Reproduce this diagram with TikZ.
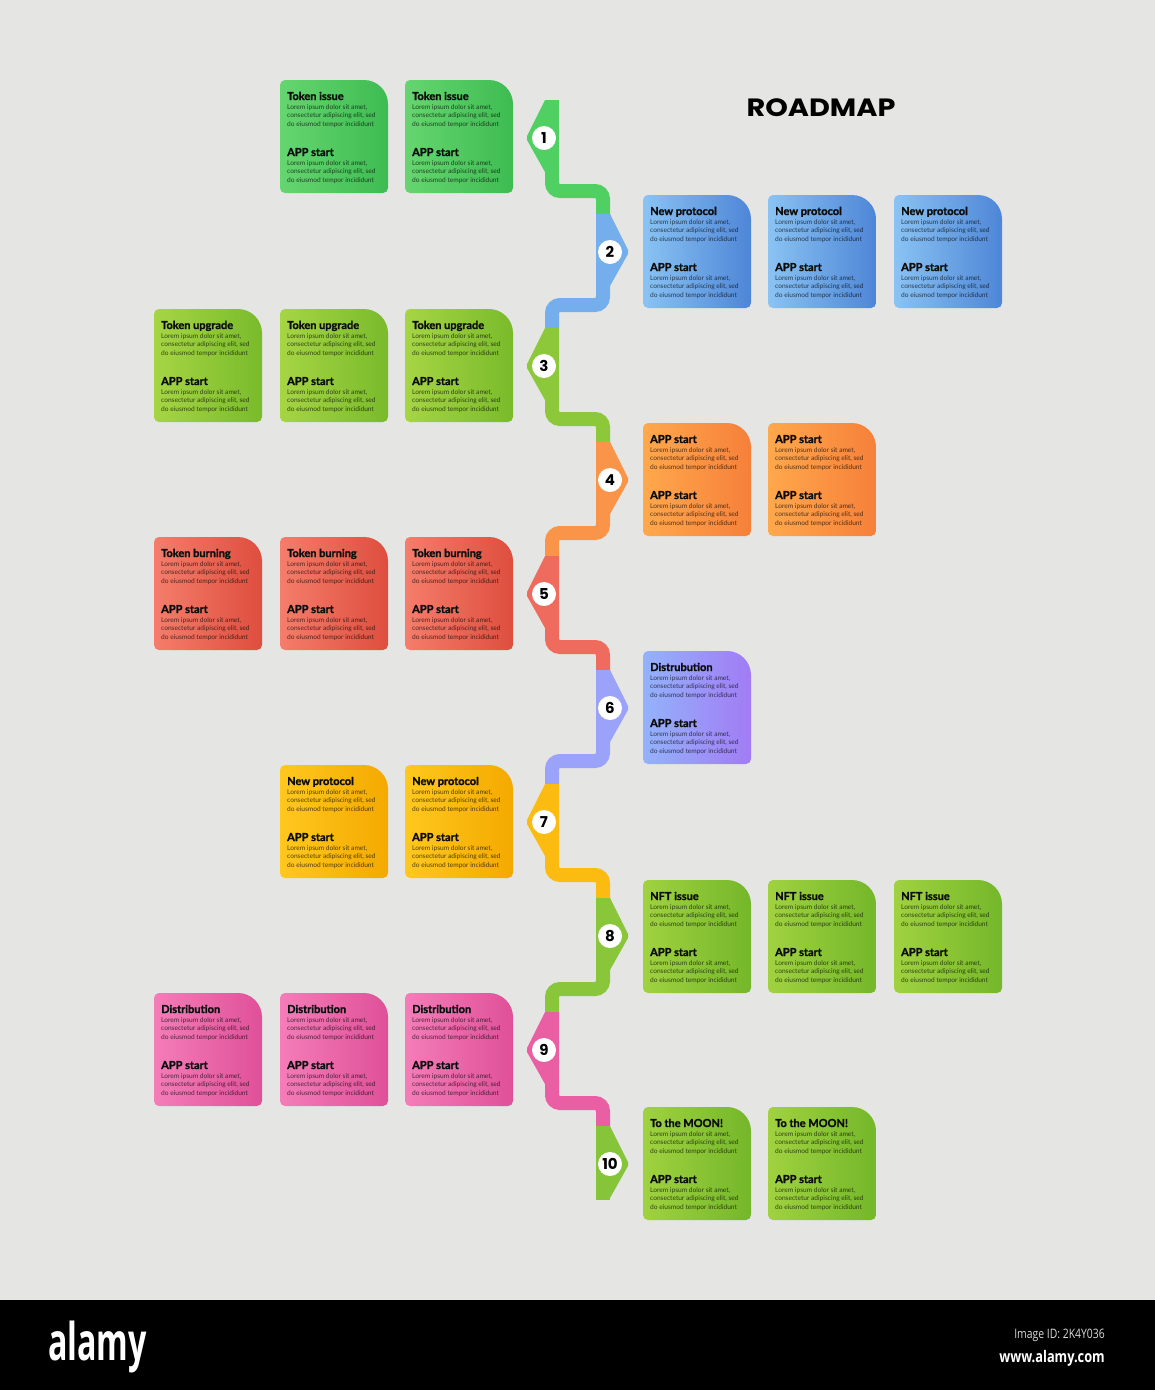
\documentclass[tikz,border=0pt]{standalone}
\usepackage{fontspec}
\setmainfont{Lato}
\newfontfamily\headfont{Lato}[BoldFeatures={FakeBold=1.6}]
\newfontfamily\badgefont{Poppins}
\newfontfamily\barfont{Open Sans}

\definecolor{bggrey}{HTML}{E5E6E4}
% card colours, left and right end of the shading
\definecolor{c1L}{HTML}{66D570}\definecolor{c1R}{HTML}{3DBC51}
\definecolor{c2L}{HTML}{8AC3F3}\definecolor{c2R}{HTML}{4E86D7}
\definecolor{c3L}{HTML}{A6D544}\definecolor{c3R}{HTML}{79BB2B}
\definecolor{c4L}{HTML}{FFA84C}\definecolor{c4R}{HTML}{F6803A}
\definecolor{c5L}{HTML}{F57D6B}\definecolor{c5R}{HTML}{DE4E3E}
\definecolor{c6L}{HTML}{93B3FB}\definecolor{c6R}{HTML}{A27BF4}
\definecolor{c7L}{HTML}{FFC81E}\definecolor{c7R}{HTML}{F4A900}
\definecolor{c8L}{HTML}{A0D240}\definecolor{c8R}{HTML}{74B72A}
\definecolor{c9L}{HTML}{F47DB8}\definecolor{c9R}{HTML}{DF5099}
% timeline colours
\definecolor{t1}{HTML}{50CF62}
\definecolor{t2}{HTML}{74AEEC}
\definecolor{t3}{HTML}{8CC83A}
\definecolor{t4}{HTML}{F99448}
\definecolor{t5}{HTML}{EF6B5E}
\definecolor{t6}{HTML}{9AA2FA}
\definecolor{t7}{HTML}{FBBB10}
\definecolor{t8}{HTML}{8AC63A}
\definecolor{t9}{HTML}{EA5FA3}
\definecolor{t10}{HTML}{86C43A}

\newcommand{\loremtext}{Lorem ipsum dolor sit amet,\\consectetur adipiscing elit, sed\\do eiusmod tempor incididunt}

% name, x, y (top left corner), colour, heading
\newcommand{\roadcard}[5]{%
  \path[left color=#4L, right color=#4R]
    (#2+5,#3) -- (#2+84,#3) arc(-90:0:24) -- (#2+108,#3+108) arc(0:90:5)
    -- (#2+5,#3+113) arc(90:180:5) -- (#2,#3+5) arc(180:270:5) -- cycle;
  \node[cardhead] (#1h) at (#2+7,#3+20) {#5};
  \node[cardbody] (#1b) at (#2+7,#3+24) {\loremtext};
  \node[cardhead] (#1a) at (#2+7,#3+76) {APP start};
  \node[cardbody] (#1c) at (#2+7,#3+80) {\loremtext};
}

\begin{document}
\begin{tikzpicture}[
    x=1pt, y=-1pt,
    cardhead/.style = {anchor=base west, inner sep=0, font=\headfont\bfseries\fontsize{11}{12}\selectfont, text=black!95},
    cardbody/.style = {anchor=north west, inner sep=0, align=left, font=\fontsize{6.6}{8.5}\selectfont, text=black, text opacity=.68},
    spine/.style = {line width=14pt, rounded corners=8pt},
    badge/.style = {circle, fill=white, inner sep=0, minimum size=24pt, font=\badgefont\bfseries\fontsize{15}{15}\selectfont}
  ]
  \useasboundingbox (0,0) rectangle (1155,1390);
  \fill[bggrey] (0,0) rectangle (1155,1300);

  \node[font=\badgefont\bfseries\fontsize{25}{25}\selectfont] (title) at (821,108) {\scalebox{1.15}[1]{ROADMAP}};

  % timeline
  \draw[spine, t1] (552,100) -- (552,191) -- (603,191) -- (603,214);
  \draw[spine, t2] (603,214) -- (603,305) -- (552,305) -- (552,328);
  \draw[spine, t3] (552,328) -- (552,419) -- (603,419) -- (603,442);
  \draw[spine, t4] (603,442) -- (603,533) -- (552,533) -- (552,556);
  \draw[spine, t5] (552,556) -- (552,647) -- (603,647) -- (603,670);
  \draw[spine, t6] (603,670) -- (603,761) -- (552,761) -- (552,784);
  \draw[spine, t7] (552,784) -- (552,875) -- (603,875) -- (603,898);
  \draw[spine, t8] (603,898) -- (603,989) -- (552,989) -- (552,1012);
  \draw[spine, t9] (552,1012) -- (552,1103) -- (603,1103) -- (603,1126);
  \draw[spine, t10] (603,1126) -- (603,1200);

  % pointed tabs
  \fill[t1] (545,100) -- (527,136) -- (527,140) -- (545,172) -- cycle;
  \fill[t2] (610,214) -- (628,250) -- (628,254) -- (610,286) -- cycle;
  \fill[t3] (545,328) -- (527,364) -- (527,368) -- (545,400) -- cycle;
  \fill[t4] (610,442) -- (628,478) -- (628,482) -- (610,514) -- cycle;
  \fill[t5] (545,556) -- (527,592) -- (527,596) -- (545,628) -- cycle;
  \fill[t6] (610,670) -- (628,706) -- (628,710) -- (610,742) -- cycle;
  \fill[t7] (545,784) -- (527,820) -- (527,824) -- (545,856) -- cycle;
  \fill[t8] (610,898) -- (628,934) -- (628,938) -- (610,970) -- cycle;
  \fill[t9] (545,1012) -- (527,1048) -- (527,1052) -- (545,1084) -- cycle;
  \fill[t10] (610,1126) -- (628,1162) -- (628,1166) -- (610,1198) -- cycle;

  \node[badge] (s1) at (544,138) {1};
  \node[badge] (s2) at (610,252) {2};
  \node[badge] (s3) at (544,366) {3};
  \node[badge] (s4) at (610,480) {4};
  \node[badge] (s5) at (544,594) {5};
  \node[badge] (s6) at (610,708) {6};
  \node[badge] (s7) at (544,822) {7};
  \node[badge] (s8) at (610,936) {8};
  \node[badge] (s9) at (544,1050) {9};
  \node[badge] (s10) at (610,1164) {10};

  % cards
  \roadcard{r1b}{280}{80}{c1}{Token issue}
  \roadcard{r1c}{405}{80}{c1}{Token issue}
  \roadcard{r2a}{643}{195}{c2}{New protocol}
  \roadcard{r2b}{768}{195}{c2}{New protocol}
  \roadcard{r2c}{894}{195}{c2}{New protocol}
  \roadcard{r3a}{154}{309}{c3}{Token upgrade}
  \roadcard{r3b}{280}{309}{c3}{Token upgrade}
  \roadcard{r3c}{405}{309}{c3}{Token upgrade}
  \roadcard{r4a}{643}{423}{c4}{APP start}
  \roadcard{r4b}{768}{423}{c4}{APP start}
  \roadcard{r5a}{154}{537}{c5}{Token burning}
  \roadcard{r5b}{280}{537}{c5}{Token burning}
  \roadcard{r5c}{405}{537}{c5}{Token burning}
  \roadcard{r6a}{643}{651}{c6}{Distrubution}
  \roadcard{r7b}{280}{765}{c7}{New protocol}
  \roadcard{r7c}{405}{765}{c7}{New protocol}
  \roadcard{r8a}{643}{880}{c8}{NFT issue}
  \roadcard{r8b}{768}{880}{c8}{NFT issue}
  \roadcard{r8c}{894}{880}{c8}{NFT issue}
  \roadcard{r9a}{154}{993}{c9}{Distribution}
  \roadcard{r9b}{280}{993}{c9}{Distribution}
  \roadcard{r9c}{405}{993}{c9}{Distribution}
  \roadcard{r10a}{643}{1107}{c8}{To the MOON!}
  \roadcard{r10b}{768}{1107}{c8}{To the MOON!}

  % bottom bar
  \fill[black] (0,1300) rectangle (1155,1390);
  \node[anchor=base west, inner sep=0, text=white, font=\barfont\bfseries\fontsize{52}{52}\selectfont] (logo) at (48,1360) {\scalebox{0.62}[1]{alamy}};
  \node[anchor=base east, inner sep=0, text=white!85!black, font=\barfont\fontsize{13}{13}\selectfont] (imgid) at (1105,1338) {\scalebox{0.8}[1]{Image ID: 2K4Y036}};
  \node[anchor=base east, inner sep=0, text=white, font=\barfont\bfseries\fontsize{16}{16}\selectfont] (site) at (1105,1362) {\scalebox{0.8}[1]{www.alamy.com}};
\end{tikzpicture}
\end{document}
